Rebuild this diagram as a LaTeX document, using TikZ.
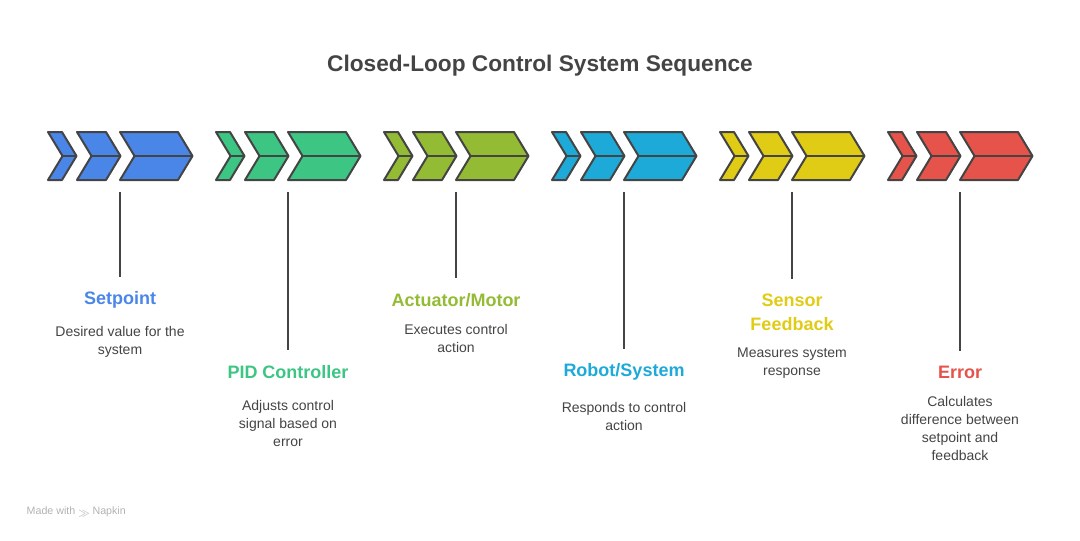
\documentclass[tikz,border=0pt]{standalone}
\usepackage{fontspec}
\setmainfont{Liberation Sans}
\usetikzlibrary{positioning}
\definecolor{cBlue}{HTML}{4A86E8}
\definecolor{cGreen}{HTML}{3CC583}
\definecolor{cOlive}{HTML}{93BB33}
\definecolor{cCyan}{HTML}{1EAAD9}
\definecolor{cYellow}{HTML}{E0CB15}
\definecolor{cRed}{HTML}{E5534B}
\definecolor{cLine}{HTML}{444444}
\tikzset{
  chev/.style={draw=cLine,line width=1.5pt,line join=round},
  stem/.style={draw=cLine,line width=1.1pt},
  head/.style={font=\fontsize{13.5}{18}\selectfont\bfseries,align=center,inner sep=1pt},
  desc/.style={font=\fontsize{10.5}{13.5}\selectfont,text=cLine,align=center,inner sep=1pt}
}
% one chevron: left x, width of top edge, colour
\newcommand{\chevpart}[3]{%
  \filldraw[chev,fill=#3] (#1,132) -- ++(#2,0) -- ++(14.5,24) -- ++(-14.5,24) -- ++(-#2,0) -- ++(14.5,-24) -- cycle;
  \draw[chev] (#1+14.5,156) -- ++(#2,0);}
\begin{document}
\begin{tikzpicture}[x=0.75pt,y=-0.75pt]
  \useasboundingbox (0,0) rectangle (1080,540);
  \node[font=\fontsize{17}{20}\selectfont\bfseries,text=cLine] (title) at (540,66) {Closed-Loop Control System Sequence};
  \foreach \i/\col in {0/cBlue,1/cGreen,2/cOlive,3/cCyan,4/cYellow,5/cRed}{
    \pgfmathsetmacro{\xl}{48+168*\i}
    \chevpart{\xl}{14}{\col}
    \chevpart{\xl+29}{29}{\col}
    \chevpart{\xl+72}{58}{\col}
    \coordinate (c\i) at (\xl+72,192);
  }
  % upper labels
  \node[head,text=cBlue] (h0) at (120,300) {Setpoint};
  \node[desc,below=11pt of h0] (d0) {Desired value for the\\system};
  \node[head,text=cOlive] (h2) at (456,300) {Actuator/Motor};
  \node[desc,below=11pt of h2] (d2) {Executes control\\action};
  \node[head,text=cYellow] (h4) at (792,312) {Sensor\\Feedback};
  \node[desc,below=11pt of h4] (d4) {Measures system\\response};
  % lower labels
  \node[head,text=cGreen] (h1) at (288,372) {PID Controller};
  \node[desc,below=14pt of h1] (d1) {Adjusts control\\signal based on\\error};
  \node[head,text=cCyan] (h3) at (624,372) {Robot/System};
  \node[desc,below=14pt of h3] (d3) {Responds to control\\action};
  \node[head,text=cRed] (h5) at (960,372) {Error};
  \node[desc,below=11pt of h5] (d5) {Calculates\\difference between\\setpoint and\\feedback};
  \foreach \i in {0,...,5}
    \draw[stem] (c\i) -- ([yshift=10pt]h\i.north);
  \node[font=\fontsize{8}{10}\selectfont,text=black!30,anchor=west] (made) at (22,512) {Made with \raisebox{-1pt}{$\gg$} Napkin};
\end{tikzpicture}
\end{document}
